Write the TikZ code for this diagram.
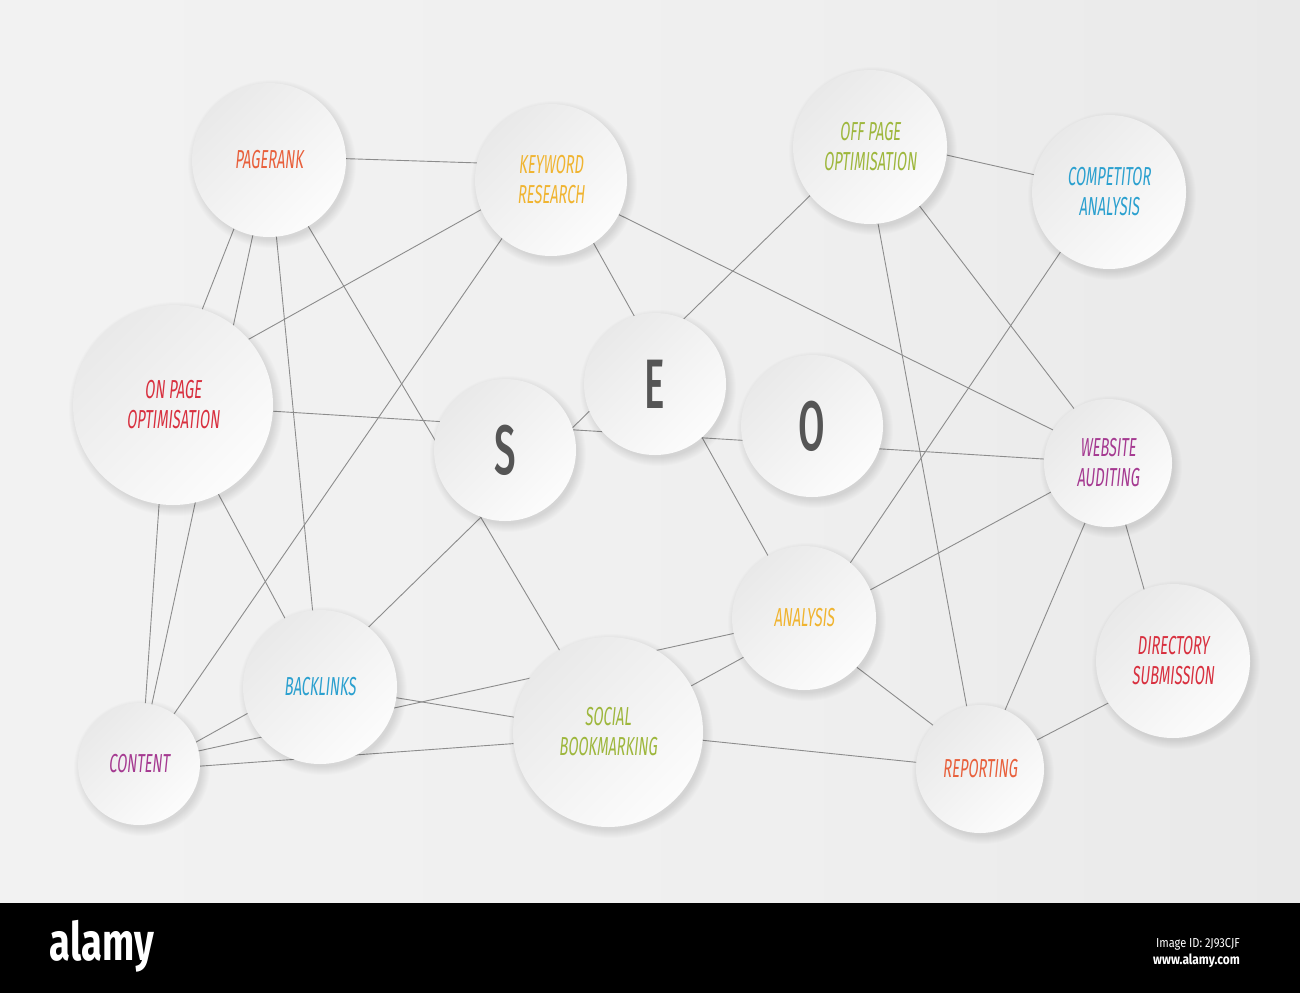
\documentclass[tikz,border=0pt]{standalone}
\usepackage{fontspec}
\newfontfamily\lbl{Fira Sans}[FakeStretch=0.56,FakeSlant=0.1]
\IfFontExistsTF{Fira Sans Medium}
 {\newfontfamily\seof{Fira Sans Medium}[FakeStretch=0.55]}
 {\newfontfamily\seof{Fira Sans}[FakeStretch=0.55]}
\newfontfamily\logof{Fira Sans}[FakeStretch=0.72]
\newfontfamily\wmf{Fira Sans}[FakeStretch=0.85]

\definecolor{bgA}{HTML}{F5F5F5}
\definecolor{bgB}{HTML}{EFEFEF}
\definecolor{bgC}{HTML}{E6E6E6}
\definecolor{bgD}{HTML}{D6D6D6}
\definecolor{bubTop}{HTML}{E9E9E9}
\definecolor{bubBot}{HTML}{FCFCFC}
\definecolor{lineGray}{HTML}{8C8C8C}
\definecolor{seoGray}{HTML}{555555}
\definecolor{cOrange}{HTML}{E8603C}
\definecolor{cYellow}{HTML}{F0B430}
\definecolor{cGreen}{HTML}{9EB73D}
\definecolor{cBlue}{HTML}{2BA0CF}
\definecolor{cRed}{HTML}{D8303F}
\definecolor{cPurple}{HTML}{A53A91}

\pgfdeclarehorizontalshading{bgsh}{100bp}{color(0bp)=(bgA); color(55bp)=(bgB); color(85bp)=(bgC); color(100bp)=(bgD)}

\pgfdeclarelayer{back}
\pgfdeclarelayer{edges}
\pgfdeclarelayer{shadow}
\pgfsetlayers{back,edges,shadow,main}

\tikzset{
  bubble/.style={circle, inner sep=0pt, outer sep=0pt, top color=bubTop, bottom color=bubBot,
    shading angle=45, align=center, font=\lbl\fontsize{26}{30}\selectfont},
  conn/.style={draw=lineGray, line width=0.9pt}
}

\newcommand\bub[6]{%
  \node[bubble, minimum size=2*#4pt, text=#5] (#1) at (#2,#3) {#6};
  \begin{pgfonlayer}{shadow}
    \foreach \k in {1,...,9}{\fill[black,opacity=0.013] ([shift={(3pt,-4pt)}]#1.center) circle ({(#4+\k-2)*1pt});}
  \end{pgfonlayer}}

\begin{document}
\begin{tikzpicture}[x=1pt,y=-1pt]
\useasboundingbox (0,0) rectangle (1300,993);
\begin{pgfonlayer}{back}
  \path[shading=bgsh] (0,0) rectangle (1300,903);
  \fill[black] (0,903) rectangle (1300,993);
\end{pgfonlayer}

\bub{PR}{269}{160}{77}{cOrange}{PAGERANK}
\bub{KW}{551}{180}{76}{cYellow}{KEYWORD\\RESEARCH}
\bub{OFF}{870}{147}{77}{cGreen}{OFF PAGE\\OPTIMISATION}
\bub{CA}{1109}{192}{77}{cBlue}{COMPETITOR\\ANALYSIS}
\bub{OP}{173}{405}{100}{cRed}{ON PAGE\\OPTIMISATION}
\bub{S}{505}{450}{71}{seoGray}{\seof\fontsize{70}{70}\selectfont S}
\bub{E}{655}{384}{71}{seoGray}{\seof\fontsize{70}{70}\selectfont E}
\bub{O}{812}{426}{71}{seoGray}{\seof\fontsize{70}{70}\selectfont O}
\bub{WA}{1108}{463}{64}{cPurple}{WEBSITE\\AUDITING}
\bub{AN}{804}{618}{72}{cYellow}{ANALYSIS}
\bub{SB}{608}{732}{95}{cGreen}{SOCIAL\\BOOKMARKING}
\bub{BL}{320}{687}{77}{cBlue}{BACKLINKS}
\bub{CT}{139}{764}{61}{cPurple}{CONTENT}
\bub{RP}{980}{769}{64}{cOrange}{REPORTING}
\bub{DS}{1173}{661}{77}{cRed}{DIRECTORY\\SUBMISSION}

\begin{pgfonlayer}{edges}
  \draw[conn] (PR.1) -- (KW.167);
  \draw[conn] (PR.243) -- (OP.73);
  \draw[conn] (PR.center) -- (CT.center);
  \draw[conn] (PR.center) -- (BL.center);
  \draw[conn] (PR.center) -- (SB.center);
  \draw[conn] (KW.203) -- (OP.41);
  \draw[conn] (KW.230) -- (CT.55);
  \draw[conn] (KW.304) -- (AN.120);
  \draw[conn] (KW.333) -- (WA.149);
  \draw[conn] (OFF.354) -- (CA.167);
  \draw[conn] (OFF.219) -- (BL.51);
  \draw[conn] (OFF.276) -- (RP.102);
  \draw[conn] (OFF.310) -- (WA.122);
  \draw[conn] (CA.231) -- (AN.50);
  \draw[conn] (OP.262) -- (CT.84);
  \draw[conn] (OP.297) -- (BL.117);
  \draw[conn] (OP.center) -- (WA.center);
  \draw[conn] (CT.21) -- (BL.200);
  \draw[conn] (CT.center) -- (AN.center);
  \draw[conn] (CT.358) -- (SB.187);
  \draw[conn] (BL.352) -- (SB.171);
  \draw[conn] (SB.29) -- (AN.213);
  \draw[conn] (SB.355) -- (RP.174);
  \draw[conn] (AN.23) -- (WA.207);
  \draw[conn] (AN.317) -- (RP.137);
  \draw[conn] (WA.249) -- (RP.67);
  \draw[conn] (WA.286) -- (DS.112);
  \draw[conn] (RP.27) -- (DS.213);
\end{pgfonlayer}

\node[text=white, inner sep=0pt, font=\logof\bfseries\fontsize{53}{53}\selectfont] (logo) at (102,946) {alamy};
\node[text=white, inner sep=0pt, anchor=east, font=\wmf\fontsize{13}{13}\selectfont] (imgid) at (1240,944) {Image ID: 2J93CJF};
\node[text=white, inner sep=0pt, anchor=east, font=\wmf\bfseries\fontsize{14}{14}\selectfont] (www) at (1240,961) {www.alamy.com};
\end{tikzpicture}
\end{document}
